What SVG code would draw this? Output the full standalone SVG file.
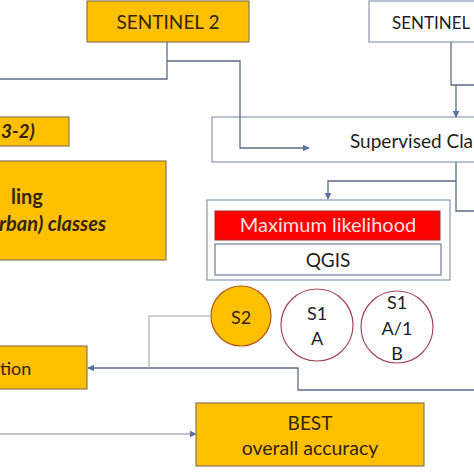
<svg xmlns="http://www.w3.org/2000/svg" width="474" height="474" viewBox="0 0 474 474">
<style>
.orange{fill:#FFC000;stroke:#8a7a55;stroke-width:1.2}
.white{fill:#ffffff;stroke:#8d9ab3;stroke-width:1.2}
.t{font-family:Lato,"Open Sans","Liberation Sans",sans-serif;fill:#1e1e1e}
.to{font-family:Lato,"Open Sans","Liberation Sans",sans-serif;fill:#33240a}
.c{fill:none;stroke:#5d6b85;stroke-width:1.3}
.cl{fill:none;stroke:#a9b2c4;stroke-width:1.6}
.cg{fill:none;stroke:#a3a3a3;stroke-width:1.1}
</style>
<defs>
<marker id="ah" viewBox="0 0 10 10" refX="9" refY="5" markerWidth="7" markerHeight="7" markerUnits="userSpaceOnUse" orient="auto">
<path d="M0,0 L10,5 L0,10 z" fill="#5a6f9e"/>
</marker>
</defs>
<rect width="474" height="474" fill="#ffffff"/>

<g id="sentinel2">
<rect class="orange" x="87" y="1" width="162" height="41"/>
<text class="to" x="168" y="29" font-size="19" text-anchor="middle">SENTINEL 2</text>
</g>

<g id="sentinel1">
<rect class="white" x="369" y="1" width="110" height="41"/>
<text class="t" x="392" y="29" font-size="17">SENTINEL</text>
</g>

<g id="supervised">
<rect class="white" x="212" y="117" width="270" height="45"/>
<text class="t" x="350" y="148" font-size="19">Supervised Cla</text>
</g>

<g id="level">
<rect class="orange" x="-2" y="117" width="71" height="29"/>
<text class="to" x="1" y="138" font-size="19" font-weight="bold" font-style="italic">3-2)</text>
</g>

<g id="labelling">
<rect class="orange" x="-2" y="161" width="168" height="99"/>
<text class="to" x="11" y="204" font-size="20" font-weight="bold">ling</text>
<text class="to" x="-1" y="231" font-size="20" font-weight="bold" font-style="italic">rban) classes</text>
</g>

<g id="method">
<rect class="white" x="207" y="200" width="243" height="80"/>
<rect x="215" y="211" width="225" height="29" fill="#ff0000" stroke="#9a2a2a" stroke-width="1"/>
<text x="328" y="232" font-size="20" text-anchor="middle" font-family="Lato,'Open Sans','Liberation Sans',sans-serif" fill="#ffe0e0">Maximum likelihood</text>
<rect x="215" y="244" width="226" height="31" fill="#ffffff" stroke="#6f7c96" stroke-width="1.2"/>
<text class="t" x="328" y="267" font-size="19" text-anchor="middle">QGIS</text>
</g>

<g id="s2">
<circle cx="241" cy="316" r="30" fill="#FFC000" stroke="#b4561a" stroke-width="1.2"/>
<text class="to" x="241" y="324" font-size="18" text-anchor="middle">S2</text>
</g>

<g id="s1a">
<circle cx="317" cy="325" r="36" fill="#ffffff" stroke="#a3485a" stroke-width="1.2"/>
<text class="t" x="317" y="320" font-size="18" text-anchor="middle">S1</text>
<text class="t" x="317" y="345" font-size="18" text-anchor="middle">A</text>
</g>

<g id="s1ab">
<circle cx="397" cy="327" r="36" fill="#ffffff" stroke="#a3485a" stroke-width="1.2"/>
<text class="t" x="397" y="309" font-size="18" text-anchor="middle">S1</text>
<text class="t" x="397" y="335" font-size="18" text-anchor="middle">A/1</text>
<text class="t" x="397" y="360" font-size="18" text-anchor="middle">B</text>
</g>

<g id="validation">
<rect class="orange" x="-2" y="346" width="89" height="43"/>
<text class="to" x="0" y="375" font-size="18">tion</text>
</g>

<g id="best">
<rect class="orange" x="196" y="403" width="228" height="63"/>
<text class="to" x="310" y="430" font-size="19" text-anchor="middle">BEST</text>
<text class="to" x="310" y="455" font-size="19.5" text-anchor="middle">overall accuracy</text>
</g>

<g id="connectors">
<polyline class="c" points="167,42 167,79 -2,79"/>
<polyline class="c" points="167,61 240,61 240,148 309,148" marker-end="url(#ah)"/>
<polyline class="c" points="451,42 451,85 476,85"/>
<polyline class="c" points="456,85 456,117" marker-end="url(#ah)"/>
<polyline class="c" points="456,162 456,211 476,211"/>
<polyline class="c" points="456,181 328,181 328,199" marker-end="url(#ah)"/>
<polyline class="c" points="476,390 298,390 298,368 88,368" marker-end="url(#ah)"/>
<polyline class="cg" points="211,316 149,316 149,368"/>
<polyline class="cl" points="-2,434 196,434" marker-end="url(#ah)"/>
</g>
</svg>
